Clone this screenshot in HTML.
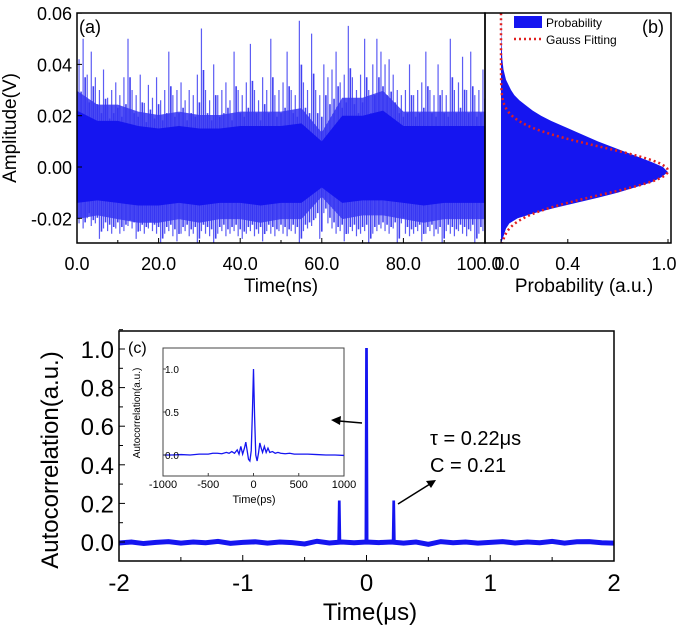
<!DOCTYPE html>
<html><head><meta charset="utf-8"><style>
body{margin:0;background:#fff}
svg{display:block;font-family:"Liberation Sans",sans-serif}
</style></head><body>
<svg id="chart" width="685" height="630" viewBox="0 0 685 630">
<defs>
<clipPath id="clipA"><rect x="77" y="13" width="408" height="230"/></clipPath>
<clipPath id="clipB"><rect x="485" y="13" width="186" height="230"/></clipPath>
<clipPath id="clipC"><rect x="119" y="331" width="495" height="230"/></clipPath>
<clipPath id="clipI"><rect x="163" y="348" width="181" height="128"/></clipPath>
</defs>
<g id="gA"></g>
<g id="gB"></g>
<g id="gC"></g>
<g id="gI"></g>
<g id="gArr"></g>
</svg>
<script>
// ---- Panel (a) data ----
const aEnvTimes = [0,5,10,15,20,25,30,35,40,45,50,55,60,65,70,75,80,85,90,95,100];
const aInnerUpper = [0.022,0.018,0.018,0.016,0.015,0.016,0.015,0.015,0.016,0.016,0.016,0.017,0.010,0.020,0.020,0.022,0.016,0.016,0.016,0.016,0.016];
const aInnerLower = [-0.014,-0.013,-0.014,-0.015,-0.015,-0.014,-0.015,-0.014,-0.014,-0.015,-0.014,-0.014,-0.008,-0.014,-0.013,-0.013,-0.014,-0.015,-0.014,-0.014,-0.014];
// per-ns spike tips (upper and lower), 0..99 ns
const aUpperTips = [0.042,0.050,0.036,0.045,0.035,0.030,0.038,0.027,0.030,0.033,0.028,0.035,0.050,0.030,0.028,0.036,0.025,0.032,0.027,0.035,0.026,0.030,0.045,0.028,0.030,0.033,0.026,0.030,0.028,0.036,0.054,0.030,0.026,0.040,0.028,0.030,0.033,0.026,0.045,0.030,0.028,0.033,0.048,0.030,0.026,0.035,0.030,0.050,0.028,0.030,0.033,0.045,0.030,0.028,0.057,0.033,0.030,0.052,0.030,0.028,0.040,0.035,0.038,0.045,0.033,0.036,0.055,0.035,0.030,0.036,0.050,0.030,0.040,0.050,0.045,0.040,0.042,0.036,0.030,0.028,0.030,0.040,0.028,0.030,0.033,0.045,0.030,0.028,0.040,0.030,0.028,0.050,0.030,0.033,0.043,0.030,0.045,0.028,0.030,0.038];
const aLowerTips = [-0.022,-0.024,-0.020,-0.023,-0.022,-0.028,-0.024,-0.025,-0.026,-0.024,-0.026,-0.025,-0.023,-0.024,-0.028,-0.025,-0.026,-0.024,-0.025,-0.026,-0.031,-0.026,-0.025,-0.027,-0.029,-0.026,-0.025,-0.027,-0.026,-0.031,-0.025,-0.026,-0.027,-0.031,-0.026,-0.025,-0.027,-0.026,-0.025,-0.027,-0.028,-0.026,-0.025,-0.027,-0.026,-0.029,-0.025,-0.026,-0.027,-0.025,-0.026,-0.027,-0.025,-0.026,-0.031,-0.025,-0.024,-0.023,-0.020,-0.028,-0.018,-0.022,-0.024,-0.026,-0.025,-0.029,-0.026,-0.025,-0.027,-0.026,-0.025,-0.031,-0.026,-0.025,-0.024,-0.025,-0.026,-0.024,-0.031,-0.022,-0.026,-0.027,-0.026,-0.025,-0.029,-0.026,-0.025,-0.027,-0.026,-0.031,-0.025,-0.026,-0.027,-0.025,-0.026,-0.027,-0.025,-0.031,-0.026,-0.025];
const aXTicks = [0,20,40,60,80,100];
const aXTickLabels = ["0.0","20.0","40.0","60.0","80.0","100.0"];
const aYTicks = [0.06,0.04,0.02,0.00,-0.02];
const aYTickLabels = ["0.06","0.04","0.02","0.00","-0.02"];
// ---- Panel (b) data ----
const bAmps = [-0.030,-0.028,-0.026,-0.024,-0.022,-0.020,-0.018,-0.016,-0.014,-0.012,-0.010,-0.008,-0.006,-0.004,-0.002,0.000,0.002,0.004,0.006,0.008,0.010,0.012,0.014,0.016,0.018,0.020,0.022,0.024,0.026,0.028,0.030,0.034,0.038,0.042,0.048,0.055,0.060];
const bProbs = [0.00,0.01,0.02,0.03,0.05,0.10,0.20,0.32,0.45,0.58,0.70,0.80,0.90,0.96,1.00,0.97,0.90,0.82,0.74,0.66,0.58,0.51,0.44,0.37,0.30,0.24,0.19,0.15,0.11,0.08,0.06,0.03,0.015,0.008,0.003,0.001,0.0];
const bGaussMu = -0.0015, bGaussSigma = 0.0092, bGaussAmp = 1.0;
const bXTicks = [0,0.4,1.0];
const bXTickLabels = ["0.0","0.4","1.0"];
// ---- Panel (c) data ----
const cPeakTimes = [-0.22,0,0.22];
const cPeakValues = [0.21,1.0,0.21];
const cBaseTimes = [-2,-1.9,-1.8,-1.7,-1.6,-1.5,-1.4,-1.3,-1.2,-1.1,-1,-0.9,-0.8,-0.7,-0.6,-0.5,-0.4,-0.3,-0.2,-0.1,0,0.1,0.2,0.3,0.4,0.5,0.6,0.7,0.8,0.9,1,1.1,1.2,1.3,1.4,1.5,1.6,1.7,1.8,1.9,2];
const cBaseValues = [-0.005,0.0,-0.008,-0.002,0.002,-0.006,0.0,-0.004,0.003,-0.007,-0.002,0.001,-0.006,0.0,-0.003,-0.01,0.004,-0.005,0.0,-0.004,0.0,-0.003,0.0,-0.006,0.0,-0.012,0.002,-0.004,0.0,-0.006,-0.002,0.002,-0.005,0.0,-0.004,0.003,-0.006,0.001,0.002,-0.004,-0.006];
const cXTicks = [-2,-1,0,1,2];
const cXTickLabels = ["-2","-1","0","1","2"];
const cYTicks = [0,0.2,0.4,0.6,0.8,1.0];
const cYTickLabels = ["0.0","0.2","0.4","0.6","0.8","1.0"];
// ---- Inset data ----
const iTimes = [-1000,-900,-800,-700,-600,-500,-450,-400,-350,-300,-270,-240,-210,-180,-160,-140,-120,-100,-85,-70,-55,-40,-25,-12,0,12,25,40,55,70,85,100,120,140,160,180,210,240,270,300,350,400,450,500,600,700,800,900,1000];
const iValues = [0.0,0.0,0.005,0.0,0.01,0.01,0.02,0.02,0.015,0.03,0.02,0.04,0.02,0.06,0.01,0.1,0.01,0.08,0.15,0.05,-0.05,-0.07,0.05,0.5,1.0,0.45,0.0,-0.07,0.02,0.14,0.08,0.03,0.1,0.03,0.08,0.03,0.04,0.02,0.03,0.02,0.015,0.02,0.01,0.01,0.01,0.005,0.0,0.0,-0.005];
const iXTicks = [-1000,-500,0,500,1000];
const iXTickLabels = ["-1000","-500","0","500","1000"];
const iYTicks = [0,0.5,1.0];
const iYTickLabels = ["0.0","0.5","1.0"];

const NS="http://www.w3.org/2000/svg";
function mk(parent,tag,attrs,text){const e=document.createElementNS(NS,tag);for(const k in attrs)e.setAttribute(k,attrs[k]);if(text!==undefined)e.textContent=text;parent.appendChild(e);return e;}
const BLUE="#1515f0";

// ===== Panel A =====
const gA=document.getElementById('gA');
const axL=77,axR=485,ayT=13,ayB=243;
const ax=t=>axL+(t/100)*(axR-axL);
const ay=v=>167-(v/0.02)*51.3;
const aClip=mk(gA,'g',{'clip-path':'url(#clipA)'});


aUpperTips.forEach((u,i)=>{
  const t=i+0.5;
  const s=mk(aClip,'line',{x1:ax(t),x2:ax(t),y1:ay(aLowerTips[i]),y2:ay(u),stroke:'#5c5cf4','stroke-width':1.2});
  
  
  const s2=mk(aClip,'line',{x1:ax(t+0.5),x2:ax(t+0.5),y1:ay(aLowerTips[i]*0.9),y2:ay(u*0.7),stroke:'#4040f2','stroke-width':1.6});
  
  
});
let op=[];
aEnvTimes.forEach((t,i)=>op.push(ax(t)+','+ay(aInnerUpper[i]*1.35)));
for(let i=aEnvTimes.length-1;i>=0;i--)op.push(ax(aEnvTimes[i])+','+ay(aInnerLower[i]*1.45));
let e=mk(aClip,'polygon',{points:op.join(' '),fill:'#3535f2','opacity':0.85});


let ip=[];
aEnvTimes.forEach((t,i)=>ip.push(ax(t)+','+ay(aInnerUpper[i])));
for(let i=aEnvTimes.length-1;i>=0;i--)ip.push(ax(aEnvTimes[i])+','+ay(aInnerLower[i]));
e=mk(aClip,'polygon',{points:ip.join(' '),fill:BLUE});


e=mk(gA,'rect',{x:axL,y:ayT,width:axR-axL,height:ayB-ayT,fill:'none',stroke:'#000','stroke-width':1.5});


aXTicks.forEach((t,i)=>{mk(gA,'line',{x1:ax(t),x2:ax(t),y1:ayB,y2:ayB-5,stroke:'#000','stroke-width':1});
if(i<aXTicks.length-1)mk(gA,'line',{x1:ax(t+10),x2:ax(t+10),y1:ayB,y2:ayB-3,stroke:'#000','stroke-width':1});
const tl=mk(gA,'text',{x:ax(t)+(i==aXTicks.length-1?-6:0),y:270,'font-size':18,'text-anchor':'middle'},aXTickLabels[i]);

});
aYTicks.forEach((v,i)=>{mk(gA,'line',{x1:axL,x2:axL+5,y1:ay(v),y2:ay(v),stroke:'#000'});
const tl=mk(gA,'text',{x:72,y:ay(v)+7,'font-size':18,'text-anchor':'end'},aYTickLabels[i]);

});
e=mk(gA,'text',{x:281,y:292,'font-size':19,'text-anchor':'middle'},'Time(ns)');


e=mk(gA,'text',{x:0,y:0,'font-size':19,'text-anchor':'middle',transform:'translate(16,128) rotate(-90)'},'Amplitude(V)');


e=mk(gA,'text',{x:79,y:33,'font-size':18},'(a)');



// ===== Panel B =====
const gB=document.getElementById('gB');
const bx=p=>501+p*167;
const bClip=mk(gB,'g',{'clip-path':'url(#clipB)'});


let hp=bx(0)+','+ay(bAmps[0])+' '+bAmps.map((a,i)=>bx(bProbs[i])+','+ay(a)).join(' ')+' '+bx(0)+','+ay(bAmps[bAmps.length-1]);
e=mk(bClip,'polygon',{points:hp,fill:BLUE});


let gp=[];for(let k=0;k<=120;k++){const a=-0.032+k*(0.094/120);gp.push(bx(bGaussAmp*Math.exp(-((a-bGaussMu)**2)/(2*bGaussSigma*bGaussSigma)))+','+ay(a));}
e=mk(bClip,'polyline',{points:gp.join(' '),fill:'none',stroke:'#e02020','stroke-width':2.5,'stroke-dasharray':'2,3'});


e=mk(gB,'rect',{x:485,y:ayT,width:186,height:ayB-ayT,fill:'none',stroke:'#000','stroke-width':1.5});


bXTicks.forEach((p,i)=>{mk(gB,'line',{x1:bx(p),x2:bx(p),y1:ayB,y2:ayB-4,stroke:'#000'});
const tl=mk(gB,'text',{x:bx(p)+(i==0?6:(i==2?-4:0)),y:270,'font-size':18,'text-anchor':'middle'},bXTickLabels[i]);

});
e=mk(gB,'text',{x:584,y:292,'font-size':19,'text-anchor':'middle'},'Probability (a.u.)');


e=mk(gB,'rect',{x:514,y:16,width:28,height:12,fill:BLUE});


e=mk(gB,'text',{x:546,y:27,'font-size':12},'Probability');


e=mk(gB,'line',{x1:514,x2:542,y1:39,y2:39,stroke:'#e02020','stroke-width':2.5,'stroke-dasharray':'2,3'});


e=mk(gB,'text',{x:546,y:44,'font-size':12},'Gauss Fitting');


e=mk(gB,'text',{x:642,y:33,'font-size':18},'(b)');



// ===== Panel C =====
const gC=document.getElementById('gC');
const cL=119,cR=614,cT=331,cB=561;
const cx=t=>cL+(t+2)/4*(cR-cL);
const cy=v=>542-v*193;
const cClip=mk(gC,'g',{'clip-path':'url(#clipC)'});


e=mk(cClip,'polyline',{points:cBaseTimes.map((t,i)=>cx(t)+','+cy(cBaseValues[i])).join(' '),fill:'none',stroke:BLUE,'stroke-width':5});


cPeakTimes.forEach((t,i)=>{const p=mk(cClip,'polyline',{points:[cx(t-0.008)+','+cy(0),cx(t-0.003)+','+cy(cPeakValues[i]),cx(t+0.003)+','+cy(cPeakValues[i]),cx(t+0.008)+','+cy(0)].join(' '),fill:BLUE,stroke:BLUE,'stroke-width':2});

});
e=mk(gC,'rect',{x:cL,y:cT,width:cR-cL,height:cB-cT,fill:'none',stroke:'#000','stroke-width':1.5});


cXTicks.forEach((t,i)=>{mk(gC,'line',{x1:cx(t),x2:cx(t),y1:cB,y2:cB-6,stroke:'#000'});
if(i<cXTicks.length-1)mk(gC,'line',{x1:cx(t+0.5),x2:cx(t+0.5),y1:cB,y2:cB-4,stroke:'#000'});
const tl=mk(gC,'text',{x:cx(t),y:591,'font-size':24,'text-anchor':'middle'},cXTickLabels[i]);

});
cYTicks.forEach((v,i)=>{mk(gC,'line',{x1:cL,x2:cL+6,y1:cy(v),y2:cy(v),stroke:'#000'});
mk(gC,'line',{x1:cL,x2:cL+4,y1:cy(v+0.1),y2:cy(v+0.1),stroke:'#000'});
const tl=mk(gC,'text',{x:114,y:cy(v)+9,'font-size':24,'text-anchor':'end'},cYTickLabels[i]);

});
e=mk(gC,'text',{x:370,y:620,'font-size':24,'text-anchor':'middle'},'Time(\u03bcs)');


e=mk(gC,'text',{x:0,y:0,'font-size':24,'text-anchor':'middle',transform:'translate(58,460) rotate(-90)'},'Autocorrelation(a.u.)');


e=mk(gC,'text',{x:128,y:353,'font-size':16},'(c)');


e=mk(gC,'text',{x:430,y:445,'font-size':20},'\u03c4 = 0.22\u03bcs');


e=mk(gC,'text',{x:430,y:472,'font-size':20},'C = 0.21');



// ===== Inset =====
const gI=document.getElementById('gI');
const iL=163,iR=344,iT=348,iB=476;
const ix=t=>iL+(t+1000)/2000*(iR-iL);
const iy=v=>455-v*86;
e=mk(gI,'rect',{x:iL,y:iT,width:iR-iL,height:iB-iT,fill:'#fff',stroke:'#444','stroke-width':1});


const iClip=mk(gI,'g',{'clip-path':'url(#clipI)'});


e=mk(iClip,'polyline',{points:iTimes.map((t,i)=>ix(t)+','+iy(iValues[i])).join(' '),fill:'none',stroke:BLUE,'stroke-width':1.3});


iXTicks.forEach((t,i)=>{mk(gI,'line',{x1:ix(t),x2:ix(t),y1:iB,y2:iB-3,stroke:'#444'});
const tl=mk(gI,'text',{x:ix(t),y:488,'font-size':11,'text-anchor':'middle'},iXTickLabels[i]);

});
iYTicks.forEach((v,i)=>{mk(gI,'line',{x1:iL,x2:iL+3,y1:iy(v),y2:iy(v),stroke:'#444'});
const tl=mk(gI,'text',{x:iL+2,y:iy(v)+4,'font-size':10},iYTickLabels[i]);

});
e=mk(gI,'text',{x:254,y:503,'font-size':11,'text-anchor':'middle'},'Time(ps)');


e=mk(gI,'text',{x:0,y:0,'font-size':10,'text-anchor':'middle',transform:'translate(140,413) rotate(-90)'},'Autocorrelation(a.u.)');



// ===== Arrows (on top) =====
const gArr=document.getElementById('gArr');
e=mk(gArr,'line',{x1:362,y1:423,x2:339,y2:421,stroke:'#000','stroke-width':1.5});


e=mk(gArr,'polygon',{points:'331,420 341,416 340,425',fill:'#000'});


e=mk(gArr,'line',{x1:398,y1:504,x2:430,y2:484,stroke:'#000','stroke-width':1.5});


e=mk(gArr,'polygon',{points:'436,480 426,481 431,488',fill:'#000'});


</script>
</body></html>
